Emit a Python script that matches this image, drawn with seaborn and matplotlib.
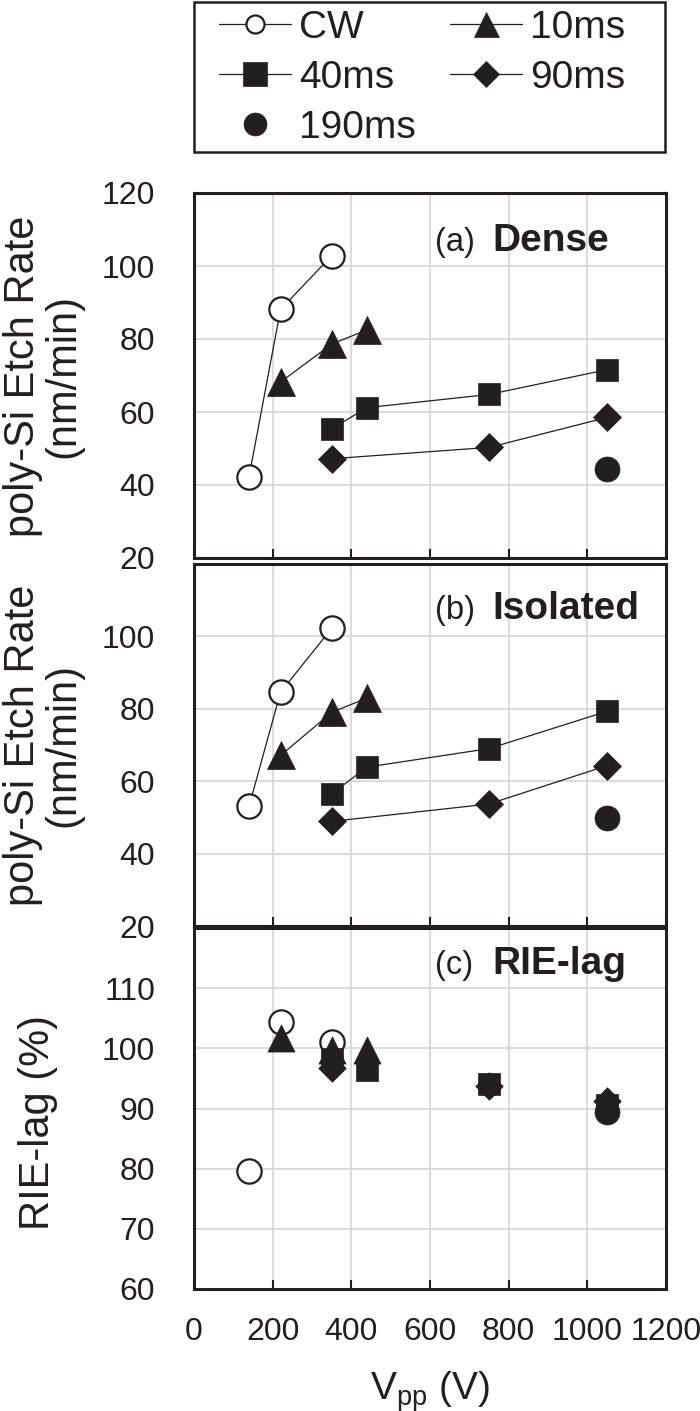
import matplotlib
matplotlib.use("Agg")
import matplotlib.pyplot as plt
import seaborn as sns
import pandas as pd
from matplotlib.lines import Line2D
from matplotlib.patches import Rectangle

# ---------------- data ----------------
series = ["CW", "10ms", "40ms", "90ms", "190ms"]

x_cw = [140, 220, 350]
x_10 = [220, 350, 440]
x_40 = [350, 440, 750, 1050]
x_90 = [350, 750, 1050]
x_190 = [1050]

dense_cw = [42.3, 88.1, 102.8]
dense_10 = [68.2, 78.6, 82.5]
dense_40 = [55.4, 61.2, 64.8, 71.6]
dense_90 = [47.2, 50.3, 58.5]
dense_190 = [44.5]

iso_cw = [53.1, 84.6, 102.2]
iso_10 = [67.1, 79.0, 83.0]
iso_40 = [56.5, 63.9, 69.0, 79.3]
iso_90 = [48.9, 53.7, 64.3]
iso_190 = [49.7]

lag_cw = [79.6, 104.4, 101.0]
lag_10 = [101.8, 99.8, 99.8]
lag_40 = [98.3, 96.4, 94.0, 90.5]
lag_90 = [96.8, 93.8, 91.2]
lag_190 = [89.5]

xticks = [0, 200, 400, 600, 800, 1000, 1200]
xtick_labels = ["0", "200", "400", "600", "800", "1000", "1200"]
rate_ticks = [20, 40, 60, 80, 100, 120]
rate_labels_a = ["20", "40", "60", "80", "100", "120"]
rate_labels_b = ["20", "40", "60", "80", "100", ""]
lag_ticks = [60, 70, 80, 90, 100, 110, 120]
lag_labels = ["60", "70", "80", "90", "100", "110", ""]

panel_tags = ["(a)", "(b)", "(c)"]
panel_names = ["Dense", "Isolated", "RIE-lag"]
rate_ylabel = "poly-Si Etch Rate\n(nm/min)"
lag_ylabel = "RIE-lag (%)"
x_label = r"V$_{\mathrm{pp}}$ (V)"

xs = {"CW": x_cw, "10ms": x_10, "40ms": x_40, "90ms": x_90, "190ms": x_190}
dense = {"CW": dense_cw, "10ms": dense_10, "40ms": dense_40, "90ms": dense_90, "190ms": dense_190}
iso = {"CW": iso_cw, "10ms": iso_10, "40ms": iso_40, "90ms": iso_90, "190ms": iso_190}
lag = {"CW": lag_cw, "10ms": lag_10, "40ms": lag_40, "90ms": lag_90, "190ms": lag_190}


def long_df(d):
    rows = []
    for s in series:
        for xv, yv in zip(xs[s], d[s]):
            rows.append({"Vpp": xv, "value": yv, "series": s})
    return pd.DataFrame(rows)


df_dense = long_df(dense)
df_iso = long_df(iso)
df_lag = long_df(lag)

# ---------------- style ----------------
DARK = "#231f20"
GRID = "#d9d9d9"
sns.set_theme(style="whitegrid")
plt.rcParams["font.family"] = ["Liberation Sans", "DejaVu Sans"]
plt.rcParams["mathtext.fontset"] = "custom"
plt.rcParams["mathtext.rm"] = "Liberation Sans"
plt.rcParams["mathtext.it"] = "Liberation Sans:italic"
plt.rcParams["text.color"] = DARK

marker_style = {
    "CW": dict(marker="o", ms=17.5, fc="white", mew=1.6),
    "10ms": dict(marker="^", ms=19.5, fc=DARK, mew=0.5),
    "40ms": dict(marker="s", ms=16.5, fc=DARK, mew=0.5),
    "90ms": dict(marker="D", ms=14.0, fc=DARK, mew=0.5),
    "190ms": dict(marker="o", ms=18.0, fc=DARK, mew=0.5),
}

W, H = 700, 1411
fig = plt.figure(figsize=(W / 100, H / 100), dpi=100)


def fig_axes(left, top, right, bottom):
    return fig.add_axes([left / W, 1 - bottom / H, (right - left) / W, (bottom - top) / H])


ax_a = fig_axes(194, 193, 666, 558)
ax_b = fig_axes(194, 564, 666, 926)
ax_c = fig_axes(194, 928, 666, 1289)


def draw_panel(ax, df, connect):
    for s in series:
        sub = df[df["series"] == s]
        st = marker_style[s]
        if connect and len(sub) > 1:
            sns.lineplot(data=sub, x="Vpp", y="value", ax=ax, color=DARK, lw=0.9,
                         marker=st["marker"], markersize=st["ms"],
                         markerfacecolor=st["fc"], markeredgecolor=DARK,
                         markeredgewidth=st["mew"], legend=False, errorbar=None,
                         zorder=3)
        else:
            sns.scatterplot(data=sub, x="Vpp", y="value", ax=ax, marker=st["marker"],
                            s=st["ms"] ** 2, color=st["fc"], edgecolor=DARK,
                            linewidth=st["mew"], legend=False, zorder=3)


draw_panel(ax_a, df_dense, True)
draw_panel(ax_b, df_iso, True)
draw_panel(ax_c, df_lag, False)

panels = [
    (ax_a, rate_ticks, rate_labels_a, (20, 120), 0.841),
    (ax_b, rate_ticks, rate_labels_b, (20, 120), 0.848),
    (ax_c, lag_ticks, lag_labels, (60, 120), 0.873),
]
for i, (ax, yt, yl, ylim, ty) in enumerate(panels):
    ax.set_xlim(0, 1200)
    ax.set_ylim(*ylim)
    ax.set_xticks(xticks, labels=xtick_labels)
    ax.set_yticks(yt, labels=yl)
    ax.set_axisbelow(True)
    ax.grid(True, color=GRID, lw=1.3)
    for sp in ax.spines.values():
        sp.set_visible(True)
        sp.set_color(DARK)
        sp.set_linewidth(2.2)
    ax.set_facecolor("white")
    ax.tick_params(axis="x", direction="in", length=6.5, width=1.5, color=DARK,
                   bottom=True, top=False, labelbottom=(i == 2), pad=20,
                   labelsize=23, labelcolor=DARK)
    ax.tick_params(axis="y", length=0, pad=28, labelsize=23, labelcolor=DARK, left=False)
    ax.set_xlabel("")
    ax.set_ylabel("")
    ax.text(0.511, ty, panel_tags[i], transform=ax.transAxes, fontsize=23.5,
            ha="left", va="baseline", color=DARK)
    ax.text(0.632, ty, panel_names[i], transform=ax.transAxes, fontsize=28,
            fontweight="bold", ha="left", va="baseline", color=DARK)

ax_c.set_xlabel(x_label, fontsize=28, color=DARK, labelpad=16)

fig.text(43 / W, 1 - 376 / H, rate_ylabel, rotation=90, ha="center", va="center",
         fontsize=30, linespacing=1.0, multialignment="center", color=DARK)
fig.text(43 / W, 1 - 745 / H, rate_ylabel, rotation=90, ha="center", va="center",
         fontsize=30, linespacing=1.0, multialignment="center", color=DARK)
fig.text(38 / W, 1 - 1122 / H, lag_ylabel, rotation=90, ha="center", va="center",
         fontsize=30, color=DARK)

# ---------------- legend ----------------
fig.patches.append(Rectangle((194 / W, 1 - 152 / H), 471 / W, 150 / H,
                             transform=fig.transFigure, fill=False,
                             edgecolor=DARK, lw=1.8))
leg_ms = {"CW": 13, "10ms": 18, "40ms": 17.5, "90ms": 13.5, "190ms": 16.5}
handles = {}
for s in series:
    st = marker_style[s]
    handles[s] = Line2D([], [], color=DARK, lw=0.9,
                        ls="-" if s != "190ms" else "none",
                        marker=st["marker"], ms=leg_ms[s], mfc=st["fc"],
                        mec=DARK, mew=st["mew"])
order = ["CW", "40ms", "190ms", "10ms", "90ms"]
fig.legend([handles[s] for s in order], order, ncol=2, loc="upper left",
           bbox_to_anchor=(219 / W, 1 - 10 / H), frameon=False, fontsize=28,
           borderpad=0, borderaxespad=0, handlelength=1.85, handletextpad=0.2,
           labelspacing=0.36, columnspacing=0.9, labelcolor=DARK)

fig.savefig("out.png", dpi=100)
